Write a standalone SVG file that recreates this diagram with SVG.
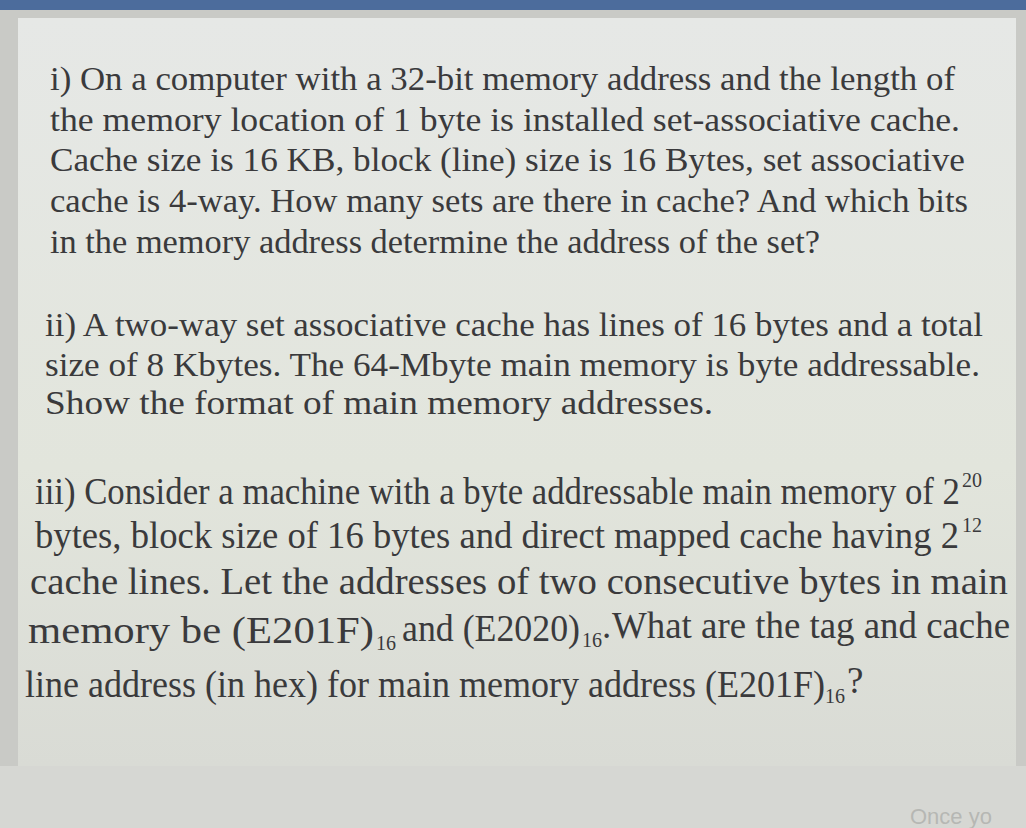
<svg xmlns="http://www.w3.org/2000/svg" width="1026" height="828" viewBox="0 0 1026 828">
<style>
.t{font-family:"Liberation Serif","Times New Roman",serif;fill:#3a3a3c}
.s{font-size:34px}.m{font-size:34px}.l{font-size:37px}
.sub{font-size:20px}
</style>
<defs>
<linearGradient id="bg" x1="0" y1="0" x2="0" y2="1">
<stop offset="0" stop-color="#e6e8e6"/><stop offset="0.6" stop-color="#e2e5dc"/><stop offset="1" stop-color="#d9dbd5"/>
</linearGradient>
</defs>
<rect width="1026" height="828" fill="#c9cac6"/>
<rect x="0" y="0" width="1026" height="10" fill="#4c6c9c"/>
<rect x="18" y="18" width="998" height="748" fill="url(#bg)"/>
<rect x="0" y="766" width="1026" height="62" fill="#d6d7d3"/>
<text class="t s" x="50" y="90" textLength="905" lengthAdjust="spacingAndGlyphs">i) On a computer with a 32-bit memory address and the length of</text>
<text class="t s" x="50" y="131" textLength="910" lengthAdjust="spacingAndGlyphs">the memory location of 1 byte is installed set-associative cache.</text>
<text class="t s" x="50" y="171" textLength="915" lengthAdjust="spacingAndGlyphs">Cache size is 16 KB, block (line) size is 16 Bytes, set associative</text>
<text class="t s" x="50" y="212" textLength="918" lengthAdjust="spacingAndGlyphs">cache is 4-way. How many sets are there in cache? And which bits</text>
<text class="t s" x="50" y="253" textLength="770" lengthAdjust="spacingAndGlyphs">in the memory address determine the address of the set?</text>
<text class="t m" x="45" y="336" textLength="938" lengthAdjust="spacingAndGlyphs">ii) A two-way set associative cache has lines of 16 bytes and a total</text>
<text class="t m" x="45" y="376" textLength="935" lengthAdjust="spacingAndGlyphs">size of 8 Kbytes. The 64-Mbyte main memory is byte addressable.</text>
<text class="t m" x="45" y="414" textLength="668" lengthAdjust="spacingAndGlyphs">Show the format of main memory addresses.</text>
<text class="t l" x="35" y="504" textLength="925" lengthAdjust="spacingAndGlyphs">iii) Consider a machine with a byte addressable main memory of 2</text>
<text class="t sub" x="962" y="487">20</text>
<text class="t l" x="35" y="548" textLength="924" lengthAdjust="spacingAndGlyphs">bytes, block size of 16 bytes and direct mapped cache having 2</text>
<text class="t sub" x="962" y="532">12</text>
<text class="t l" x="30" y="594" textLength="978" lengthAdjust="spacingAndGlyphs">cache lines. Let the addresses of two consecutive bytes in main</text>
<text class="t l" x="28" y="643" textLength="346" lengthAdjust="spacingAndGlyphs">memory be (E201F)</text>
<text class="t sub" x="376" y="650">16</text>
<text class="t l" x="402" y="641" textLength="178" lengthAdjust="spacingAndGlyphs">and (E2020)</text>
<text class="t sub" x="582" y="647">16</text>
<text class="t l" x="602" y="638">.</text>
<text class="t l" x="612" y="638" textLength="398" lengthAdjust="spacingAndGlyphs">What are the tag and cache</text>
<text class="t l" x="25" y="697" textLength="800" lengthAdjust="spacingAndGlyphs">line address (in hex) for main memory address (E201F)</text>
<text class="t sub" x="825" y="703">16</text>
<text class="t l" x="847" y="693">?</text>
<text x="910" y="824" style="font-family:'Liberation Sans',Arial,sans-serif;font-size:22px;fill:#b6b7b4">Once yo</text>
</svg>
